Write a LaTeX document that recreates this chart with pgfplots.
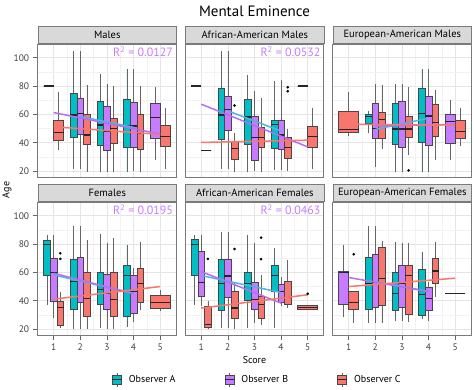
\documentclass[border=0pt]{standalone}
\usepackage{pgfplots}
\pgfplotsset{compat=1.18}
\usepgfplotslibrary{statistics}
\usepackage{fontspec}
\setmainfont{PT Sans}

\definecolor{obsA}{HTML}{00BFC4}
\definecolor{obsB}{HTML}{C77CFF}
\definecolor{obsC}{HTML}{F8766D}
\definecolor{lnA}{HTML}{4FB3E6}
\definecolor{lnB}{HTML}{B46EF5}
\definecolor{lnC}{HTML}{F8766D}
\definecolor{stripfill}{HTML}{D9D9D9}
\definecolor{frame}{HTML}{7A7A7A}

\pgfplotsset{
  panel/.style={
    scale only axis, width=138.5pt, height=133pt, anchor=north west,
    xmin=0.4, xmax=5.6, ymin=15.8, ymax=109.7,
    xtick={1,2,3,4,5}, ytick={20,40,60,80,100},
    minor xtick={1.5,2.5,3.5,4.5}, minor ytick={30,50,70,90},
    grid=both,
    major grid style={draw=black!10, line width=0.6pt},
    minor grid style={draw=black!5, line width=0.4pt},
    axis line style={draw=frame, line width=0.7pt},
    tick align=outside, major tick length=5pt, minor tick length=0pt,
    xtick pos=left, ytick pos=left,
    tick style={draw=black!60, line width=0.6pt},
    tick label style={font=\fontsize{9.5}{10}\selectfont, text=black!75},
    /pgf/number format/assume math mode=true,
    boxplot/draw direction=y,
  },
  noxt/.style={xticklabels={}, xtick style={draw=none}},
  noyt/.style={yticklabels={}, ytick style={draw=none}},
}
% position, width, lower whisker, lower quartile, median, upper quartile, upper whisker, fill
\newcommand{\ggbox}[8]{%
  \addplot+[solid, mark=none, draw=black!72, line width=0.5pt, fill=#8,
    boxplot prepared={draw position=#1, box extend=#2, whisker extend=0,
      lower whisker=#3, lower quartile=#4, median=#5, upper quartile=#6, upper whisker=#7,
      every whisker/.style={draw=black!60, line width=0.6pt},
      every median/.style={draw=black!85, line width=1.2pt}}]
    coordinates {};}
\newcommand{\rsq}[1]{\node[anchor=north east, text=obsB, font=\fontsize{12}{12}\selectfont, inner sep=1pt] at (rel axis cs:0.985,0.99) {R\textsuperscript{2} = #1};}
\newcommand{\outl}[1]{\addplot[only marks, mark=*, mark size=1.1pt, black] coordinates {#1};}

\begin{document}
\begin{tikzpicture}
\path[use as bounding box] (0pt,0pt) rectangle (474pt,-390pt);

% ---------------- Males ----------------
\begin{axis}[panel, noxt, at={(37.7pt,-44pt)}]
\ggbox{0.8125}{0.375}{80}{80}{80}{80}{80}{obsB}
\ggbox{1.1875}{0.375}{34.7}{41.8}{47.3}{56}{75.5}{obsC}
\ggbox{1.75}{0.25}{21.7}{44.2}{59.6}{75}{104.7}{obsA}
\ggbox{2}{0.25}{21.7}{45.9}{60.8}{71.5}{104.7}{obsB}
\ggbox{2.25}{0.25}{19.3}{38.7}{45.4}{59.9}{80.8}{obsC}
\ggbox{2.75}{0.25}{19.3}{38.3}{52.5}{69.6}{88.6}{obsA}
\ggbox{3}{0.25}{19.3}{34.7}{47.8}{65.6}{81.5}{obsB}
\ggbox{3.25}{0.25}{19.3}{39.5}{50.1}{57.3}{79.8}{obsC}
\ggbox{3.75}{0.25}{19.3}{36.6}{52}{71}{91.7}{obsA}
\ggbox{4}{0.25}{19.8}{37.1}{51.8}{68.7}{91.7}{obsB}
\ggbox{4.25}{0.25}{19.3}{35.7}{46.6}{59.9}{79.8}{obsC}
\ggbox{4.8125}{0.375}{27.6}{43.3}{57.7}{68.2}{79.1}{obsB}
\ggbox{5.1875}{0.375}{21.7}{37.6}{44.4}{52.5}{64.4}{obsC}
\addplot[lnA, line width=1.5pt] coordinates {(2,58.5) (4,50.9)};
\addplot[lnB, line width=1.5pt] coordinates {(1,61.3) (5,46.1)};
\addplot[lnC, line width=1.5pt] coordinates {(1,51.3) (5,45.9)};
\rsq{0.0127}
\end{axis}

% ---------------- African-American Males ----------------
\begin{axis}[panel, noxt, noyt, at={(185.2pt,-44pt)}]
\ggbox{0.8125}{0.375}{80}{80}{80}{80}{80}{obsB}
\ggbox{1.1875}{0.375}{34.7}{34.7}{34.7}{34.7}{34.7}{obsC}
\ggbox{1.75}{0.25}{21.7}{42.5}{59.6}{78.2}{104.7}{obsA}
\ggbox{2}{0.25}{21.7}{49}{63.7}{72.7}{104.7}{obsB}
\ggbox{2.25}{0.25}{19.3}{28.3}{35.9}{41.1}{47}{obsC}
\ggbox{2.75}{0.25}{19.3}{38.7}{58.2}{70.8}{87.7}{obsA}
\ggbox{3}{0.25}{20}{27.6}{43.5}{58.7}{76.7}{obsB}
\ggbox{3.25}{0.25}{19.3}{37.1}{43.5}{50.6}{71.5}{obsC}
\ggbox{3.75}{0.25}{20.5}{36.4}{53}{56.1}{83.4}{obsA}
\ggbox{4}{0.25}{20.5}{35.2}{45.4}{55.6}{84.6}{obsB}
\ggbox{4.25}{0.25}{19.8}{28.8}{36.6}{44.2}{50}{obsC}
\ggbox{4.8125}{0.375}{80}{80}{80}{80}{80}{obsB}
\ggbox{5.1875}{0.375}{21.7}{36.6}{44.2}{51.3}{64.4}{obsC}
\outl{(2.25,66.3) (4.25,79.1) (4.25,76.3)}
\addplot[lnA, line width=1.5pt] coordinates {(2,62.5) (4,48.2)};
\addplot[lnB, line width=1.5pt] coordinates {(1,67.2) (5,37.1)};
\addplot[lnC, line width=1.5pt] coordinates {(1,40.2) (5,41.8)};
\rsq{0.0532}
\end{axis}

% ---------------- European-American Males ----------------
\begin{axis}[panel, noxt, noyt, at={(332.7pt,-44pt)}]
\ggbox{1}{0.75}{44.7}{47.1}{49.4}{62.5}{75.5}{obsC}
\ggbox{1.75}{0.25}{46.6}{53.7}{58.5}{60.4}{62.5}{obsA}
\ggbox{2}{0.25}{22.8}{43}{50.1}{67.9}{81.5}{obsB}
\ggbox{2.25}{0.25}{35.9}{43}{56.6}{61.3}{81}{obsC}
\ggbox{2.75}{0.25}{19.3}{38.7}{49.7}{67.9}{81.5}{obsA}
\ggbox{3}{0.25}{19.3}{37.1}{49.7}{69.6}{81.5}{obsB}
\ggbox{3.25}{0.25}{31.2}{44.2}{49.7}{58.5}{79.3}{obsC}
\ggbox{3.75}{0.25}{19.3}{40.2}{60.8}{78.2}{91.7}{obsA}
\ggbox{4}{0.25}{19.3}{38}{58.9}{72.7}{91.7}{obsB}
\ggbox{4.25}{0.25}{27.6}{44.7}{54}{67.2}{77.4}{obsC}
\ggbox{4.8125}{0.375}{27.6}{39.5}{54.9}{60.4}{70.3}{obsB}
\ggbox{5.1875}{0.375}{37.6}{43.5}{47.8}{56.1}{64.4}{obsC}
\outl{(3.25,20.5)}
\addplot[lnA, line width=1.5pt] coordinates {(2,49.4) (4,57.3)};
\addplot[lnB, line width=1.5pt] coordinates {(2,51.8) (5,53)};
\addplot[lnC, line width=1.5pt] coordinates {(1,53) (5,52.5)};
\end{axis}

% ---------------- Females ----------------
\begin{axis}[panel, at={(37.7pt,-202pt)}]
\ggbox{0.75}{0.25}{37.1}{58.2}{79.8}{82.9}{86.4}{obsA}
\ggbox{1}{0.25}{27.7}{39.9}{60.1}{70}{86.4}{obsB}
\ggbox{1.25}{0.25}{20.7}{23}{35.5}{39.5}{46.5}{obsC}
\ggbox{1.75}{0.25}{20}{34.1}{53.5}{69.5}{92.7}{obsA}
\ggbox{2}{0.25}{20}{38.8}{54.3}{70.4}{92.7}{obsB}
\ggbox{2.25}{0.25}{20}{28.9}{41.8}{60.1}{82.9}{obsC}
\ggbox{2.75}{0.25}{20.7}{37.8}{48.2}{59.9}{86.9}{obsA}
\ggbox{3}{0.25}{20}{34.1}{44.9}{58.9}{81}{obsB}
\ggbox{3.25}{0.25}{20}{28.9}{41.1}{59.9}{84}{obsC}
\ggbox{3.75}{0.25}{21.4}{28.9}{57.8}{64.8}{79.4}{obsA}
\ggbox{4}{0.25}{24.7}{31.3}{46.5}{57.8}{62.9}{obsB}
\ggbox{4.25}{0.25}{33.6}{38.8}{52.1}{62.9}{81.7}{obsC}
\ggbox{5}{0.75}{32.4}{34.8}{38.8}{44.2}{47.7}{obsC}
\outl{(1.25,73.5) (1.25,69.5)}
\addplot[lnA, line width=1.5pt] coordinates {(1,58.2) (4,45.3)};
\addplot[lnB, line width=1.5pt] coordinates {(1,59.4) (4,44.9)};
\addplot[lnC, line width=1.5pt] coordinates {(1,41.1) (5,50)};
\rsq{0.0195}
\end{axis}

% ---------------- African-American Females ----------------
\begin{axis}[panel, noyt, at={(185.2pt,-202pt)},
  legend style={at={(axis description cs:0.52,-0.338)}, anchor=center, draw=none, fill=none,
    legend columns=3, font=\fontsize{10}{11}\selectfont,
    /tikz/every odd column/.append style={column sep=5pt},
    /tikz/every even column/.append style={column sep=47pt}},
  legend image code/.code={
    \draw[black!60, line width=0.6pt] (4.5pt,-7pt) -- (4.5pt,7pt);
    \filldraw[draw=black!72, line width=0.5pt] (0pt,-4.5pt) rectangle (9pt,4.5pt);
    \draw[black!85, line width=1pt] (0pt,0pt) -- (9pt,0pt);
  }]
\addlegendimage{fill=obsA}\addlegendentry{Observer A}
\addlegendimage{fill=obsB}\addlegendentry{Observer B}
\addlegendimage{fill=obsC}\addlegendentry{Observer C}
\ggbox{0.75}{0.25}{37.1}{58.2}{79.8}{83.3}{86.4}{obsA}
\ggbox{1}{0.25}{36}{43}{52.8}{74.7}{86.4}{obsB}
\ggbox{1.25}{0.25}{20}{21.4}{23}{36.4}{39.5}{obsC}
\ggbox{1.75}{0.25}{20.7}{33.6}{51.9}{69.5}{88.7}{obsA}
\ggbox{2}{0.25}{20.7}{42.3}{57.5}{69.5}{88.7}{obsB}
\ggbox{2.25}{0.25}{20}{27.3}{34.8}{47}{53.5}{obsC}
\ggbox{2.75}{0.25}{20.7}{40.6}{52}{59.9}{86.4}{obsA}
\ggbox{3}{0.25}{24.2}{34.1}{41.1}{53.3}{81}{obsB}
\ggbox{3.25}{0.25}{23}{27.7}{37.1}{43.5}{58.2}{obsC}
\ggbox{3.75}{0.25}{20.7}{46.5}{57.8}{64.8}{77}{obsA}
\ggbox{4}{0.25}{36}{38.8}{46.5}{51.9}{57}{obsB}
\ggbox{4.25}{0.25}{34.8}{37.6}{42.5}{54}{68.8}{obsC}
\ggbox{5}{0.75}{34.1}{34.1}{35.3}{37.1}{37.1}{obsC}
\outl{(1.25,69.5) (2.25,76.5) (3.25,84.5) (3.25,69.3) (5,44.9)}
\addplot[lnA, line width=1.5pt] coordinates {(1,57.8) (4,45.8)};
\addplot[lnB, line width=1.5pt] coordinates {(1,60.6) (4,38.3)};
\addplot[lnC, line width=1.5pt] coordinates {(1,34.8) (5,44.2)};
\rsq{0.0463}
\end{axis}

% ---------------- European-American Females ----------------
\begin{axis}[panel, noyt, at={(332.7pt,-202pt)}]
\ggbox{0.8125}{0.375}{28.2}{37.6}{60.1}{60.6}{79.4}{obsB}
\ggbox{1.1875}{0.375}{24.2}{34.1}{39}{47}{47}{obsC}
\ggbox{1.75}{0.25}{24.2}{34.3}{52.4}{70.4}{92.7}{obsA}
\ggbox{2}{0.25}{24.2}{35.3}{53}{72.8}{92.7}{obsB}
\ggbox{2.25}{0.25}{24.2}{37.1}{55.9}{77.5}{82.4}{obsC}
\ggbox{2.75}{0.25}{25.4}{33.6}{44.9}{59.9}{81.2}{obsA}
\ggbox{3}{0.25}{25.4}{35.5}{52}{65.3}{80.5}{obsB}
\ggbox{3.25}{0.25}{24.7}{30.8}{57.8}{64.8}{80.5}{obsC}
\ggbox{3.75}{0.25}{27}{30.1}{44.6}{62.2}{74.7}{obsA}
\ggbox{4}{0.25}{25.4}{33.6}{41.8}{49.6}{53.5}{obsB}
\ggbox{4.25}{0.25}{42.5}{52.4}{61}{70}{81.7}{obsC}
\ggbox{5}{0.75}{45.3}{45.3}{45.3}{45.3}{45.3}{obsC}
\outl{(1.1875,72.8)}
\addplot[lnA, line width=1.5pt] coordinates {(2,53.5) (4,46.5)};
\addplot[lnB, line width=1.5pt] coordinates {(1,56.4) (4,46.5)};
\addplot[lnC, line width=1.5pt] coordinates {(1,50) (5,55.9)};
\end{axis}

% strips
\tikzset{strip/.style={draw=frame, fill=stripfill, line width=0.7pt, minimum width=138.5pt, minimum height=17pt, inner sep=0pt, anchor=south west, font=\fontsize{10.5}{11}\selectfont}}
\node[strip] at (37.7pt,-44pt) {Males};
\node[strip] at (185.2pt,-44pt) {African-American Males};
\node[strip] at (332.7pt,-44pt) {European-American Males};
\node[strip] at (37.7pt,-202pt) {Females};
\node[strip] at (185.2pt,-202pt) {African-American Females};
\node[strip] at (332.7pt,-202pt) {European-American Females};

% titles
\node[font=\fontsize{15}{16}\selectfont] at (254.5pt,-11pt) {Mental Eminence};
\node[font=\fontsize{10}{11}\selectfont, rotate=90] at (7pt,-190pt) {Age};
\node[font=\fontsize{10}{11}\selectfont] at (254.5pt,-360pt) {Score};
\end{tikzpicture}
\end{document}
